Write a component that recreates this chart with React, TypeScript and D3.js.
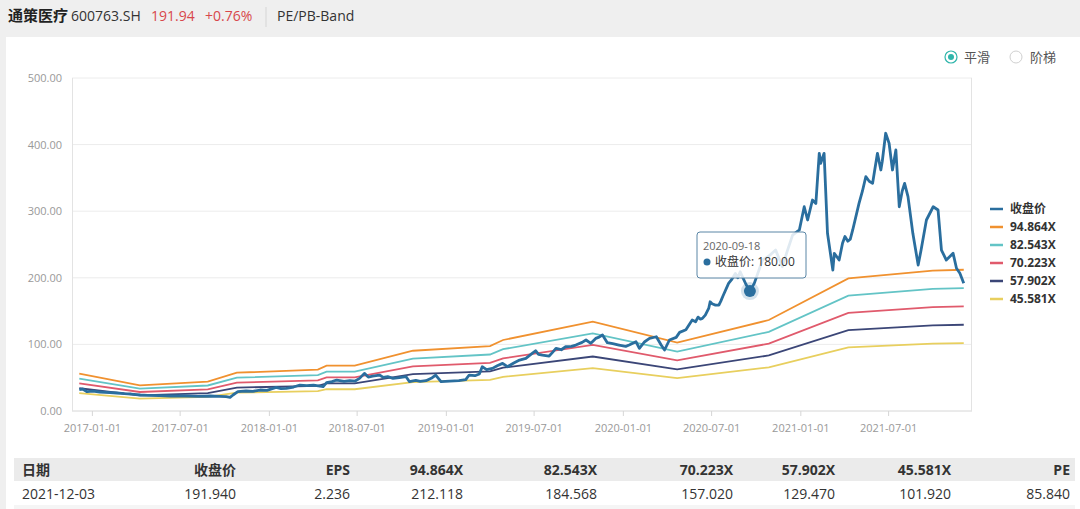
import * as d3 from "d3";

// closing price (adjusted)
const closeDates = [
  "2016-12-05", "2016-12-12", "2016-12-21", "2017-01-03", "2017-01-16", "2017-02-06", "2017-02-20",
  "2017-03-08", "2017-03-22", "2017-04-10", "2017-04-25", "2017-05-19", "2017-06-12", "2017-07-11",
  "2017-08-07", "2017-09-01", "2017-09-20", "2017-10-04", "2017-10-12", "2017-10-18", "2017-10-28",
  "2017-11-14", "2017-11-28", "2017-12-13", "2017-12-27", "2018-01-15", "2018-01-25", "2018-02-05",
  "2018-02-20", "2018-03-05", "2018-03-19", "2018-04-02", "2018-04-22", "2018-04-29", "2018-05-10",
  "2018-05-20", "2018-06-04", "2018-06-16", "2018-06-27", "2018-07-06", "2018-07-16", "2018-07-24",
  "2018-08-02", "2018-08-16", "2018-08-24", "2018-09-02", "2018-09-13", "2018-09-26", "2018-10-10",
  "2018-10-17", "2018-10-30", "2018-11-08", "2018-11-20", "2018-12-03", "2018-12-10", "2018-12-21",
  "2019-01-08", "2019-01-27", "2019-02-10", "2019-02-17", "2019-03-01", "2019-03-10", "2019-03-16",
  "2019-03-25", "2019-04-06", "2019-04-16", "2019-04-27", "2019-05-07", "2019-05-20", "2019-06-01",
  "2019-06-14", "2019-06-27", "2019-07-04", "2019-07-10", "2019-07-18", "2019-08-01", "2019-08-08",
  "2019-08-15", "2019-08-26", "2019-09-04", "2019-09-16", "2019-09-25", "2019-10-08", "2019-10-16",
  "2019-10-26", "2019-11-05", "2019-11-12", "2019-11-19", "2019-11-29", "2019-12-10", "2019-12-23",
  "2020-01-06", "2020-01-13", "2020-01-27", "2020-02-03", "2020-02-14", "2020-02-24", "2020-03-09",
  "2020-03-19", "2020-03-26", "2020-04-05", "2020-04-19", "2020-04-26", "2020-05-09", "2020-05-22",
  "2020-05-29", "2020-06-03", "2020-06-08", "2020-06-12", "2020-06-18", "2020-06-25", "2020-06-28",
  "2020-07-02", "2020-07-09", "2020-07-16", "2020-07-20", "2020-07-24", "2020-08-05", "2020-08-12",
  "2020-08-19", "2020-08-24", "2020-08-29", "2020-09-10", "2020-09-18", "2020-09-27", "2020-10-14",
  "2020-10-26", "2020-11-10", "2020-11-24", "2020-12-04", "2020-12-15", "2020-12-29", "2021-01-08",
  "2021-01-15", "2021-01-25", "2021-02-01", "2021-02-08", "2021-02-11", "2021-02-18", "2021-02-25",
  "2021-03-08", "2021-03-11", "2021-03-21", "2021-03-28", "2021-04-02", "2021-04-08", "2021-04-13",
  "2021-04-18", "2021-05-01", "2021-05-08", "2021-05-15", "2021-05-22", "2021-05-29", "2021-06-02",
  "2021-06-08", "2021-06-15", "2021-06-18", "2021-06-25", "2021-07-02", "2021-07-09", "2021-07-16",
  "2021-07-23", "2021-07-29", "2021-08-03", "2021-08-10", "2021-08-20", "2021-08-31", "2021-09-06",
  "2021-09-17", "2021-10-01", "2021-10-11", "2021-10-18", "2021-10-28", "2021-11-11", "2021-11-18",
  "2021-11-25", "2021-12-03",
];
const closeValues = [
  32, 33, 29, 30, 28.5, 27.5, 27,
  26, 25.5, 24, 23.5, 23, 22.5, 22.5,
  22, 22.5, 22, 21.5, 20.5, 24, 29,
  30, 29.5, 31.5, 31, 35.5, 33.5, 34,
  36, 39, 38, 39, 36.5, 42.5, 44,
  46.5, 44.5, 45.5, 45, 49, 56.5, 51,
  52.5, 54, 50.5, 51.5, 49, 50, 51.5,
  44, 46, 44.5, 45.5, 50, 54, 44,
  45, 45.5, 47, 54, 53, 55.5, 66.5,
  62, 64, 68, 71.5, 66.5, 72, 76.5,
  79, 86.5, 90.5, 85, 84, 82.5, 88,
  94, 92, 96.5, 97, 99, 103, 106.6,
  101.6, 109, 111, 114, 102.6, 101, 99,
  97, 99, 104, 94, 104, 109, 111.5,
  99, 91.6, 106.6, 110.6, 118, 122, 136.6,
  134, 141, 138, 139, 144, 154, 164,
  161, 159, 159, 165, 172, 191.6, 198,
  206.6, 200, 209, 190, 180, 191.6, 226.7,
  232, 241.7, 216.7, 240, 264, 271.8, 306.7,
  286.8, 316.8, 311.7, 386.9, 371.9, 386.9, 266.8,
  211.7, 236.8, 226.7, 251.8, 262, 255, 258,
  271.8, 311.7, 330, 351.8, 345, 341.8, 360,
  386.9, 361.9, 375, 417, 402, 361.9, 391.9,
  306.7, 330, 341.8, 321.8, 266.8, 219.2, 241.7,
  286.8, 306.7, 301.8, 241.7, 226.7, 236.8, 214.3,
  206.7, 191.94,
];

// EPS (TTM) at the kinks of the bands
const epsDates = [
  "2016-12-05", "2017-04-09", "2017-08-27", "2017-10-26", "2018-04-11", "2018-04-29",
  "2018-06-26", "2018-10-24", "2019-04-01", "2019-04-28", "2019-10-30", "2020-04-21",
  "2020-10-27", "2021-04-09", "2021-09-30", "2021-12-03",
];
const epsValues = [
  0.59, 0.406, 0.464, 0.606, 0.654, 0.717, 0.717, 0.954, 1.028, 1.124, 1.413, 1.082,
  1.44, 2.098, 2.221, 2.236,
];

const multiples = [94.864, 82.543, 70.223, 57.902, 45.581];
const bandColors = ["#f0912f", "#63c4c6", "#e05a6c", "#3b4677", "#e8cf5e"];
const closeColor = "#2a6e9e";

const xTickLabels = [
  "2017-01-01", "2017-07-01", "2018-01-01", "2018-07-01", "2019-01-01",
  "2019-07-01", "2020-01-01", "2020-07-01", "2021-01-01", "2021-07-01",
];
const yTicks = [0, 100, 200, 300, 400, 500];

const tableHeaders = ["日期", "收盘价", "EPS", "94.864X", "82.543X", "70.223X", "57.902X", "45.581X", "PE"];
const tableRow = ["2021-12-03", "191.940", "2.236", "212.118", "184.568", "157.020", "129.470", "101.920", "85.840"];

const hoverDate = "2020-09-18";
const hoverValue = 180;

const parse = d3.timeParse("%Y-%m-%d");
const FONT = "'Open Sans', 'Noto Sans CJK SC', sans-serif";

export default function App() {
  const x = d3
    .scaleTime()
    .domain([parse("2016-11-20")!, parse("2021-12-20")!])
    .range([72, 972]);
  const y = d3.scaleLinear().domain([0, 500]).range([411, 78]);

  const closeLine = d3
    .line<number>()
    .x((_, i) => x(parse(closeDates[i])!))
    .y((d) => y(d));

  const bandLine = (m: number) =>
    d3
      .line<number>()
      .x((_, i) => x(parse(epsDates[i])!))
      .y((d) => y(d * m))(epsValues);

  const legendNames = ["收盘价", ...multiples.map((m) => `${m}X`)];
  const legendColors = [closeColor, ...bandColors];

  const colRight = [null, 236, 350, 463, 597, 733, 835, 951, 1070];

  const hx = x(parse(hoverDate)!);
  const hy = y(hoverValue);

  return (
    <svg
      width={1080}
      height={509}
      style={{ position: "absolute", left: 0, top: 0, fontFamily: FONT }}
    >
      <rect width={1080} height={509} fill="#efefef" />
      <rect x={6} y={37} width={1074} height={472} fill="#ffffff" />

      {/* header */}
      <text x={8} y={21} fontSize={15} fontWeight="bold" fill="#222">通策医疗</text>
      <text x={71} y={21} fontSize={14} fill="#333">600763.SH</text>
      <text x={151} y={21} fontSize={14} fill="#d8474b">191.94</text>
      <text x={205} y={21} fontSize={14} fill="#d8474b">+0.76%</text>
      <line x1={266} x2={266} y1={7} y2={27} stroke="#d5d5d5" />
      <text x={277} y={21} fontSize={14} fill="#333">PE/PB-Band</text>

      {/* smooth / step toggle */}
      <circle cx={951} cy={57} r={6} fill="#fff" stroke="#2fb5ab" strokeWidth={1.2} />
      <circle cx={951} cy={57} r={3} fill="#2fb5ab" />
      <text x={964} y={62} fontSize={13} fill="#555">平滑</text>
      <circle cx={1016} cy={57} r={6} fill="#fff" stroke="#d0d0d0" strokeWidth={1} />
      <text x={1030} y={62} fontSize={13} fill="#555">阶梯</text>

      {/* grid + y axis */}
      {yTicks.map((t) => (
        <g key={t}>
          <line x1={72} x2={972} y1={y(t)} y2={y(t)} stroke={t === 0 ? "#d6d6d6" : "#ececec"} />
          <text x={62} y={y(t) + 4} fontSize={11} fill="#999" textAnchor="end">
            {d3.format(".2f")(t)}
          </text>
        </g>
      ))}
      <line x1={72.5} x2={72.5} y1={78} y2={411} stroke="#e3e3e3" />
      <line x1={971.5} x2={971.5} y1={78} y2={411} stroke="#e3e3e3" />

      {/* x axis */}
      {xTickLabels.map((s) => {
        const tx = x(parse(s)!);
        return (
          <g key={s}>
            <line x1={tx} x2={tx} y1={411} y2={416} stroke="#d6d6d6" />
            <text x={tx} y={432} fontSize={11} fill="#999" textAnchor="middle">{s}</text>
          </g>
        );
      })}

      {/* bands */}
      {multiples.map((m, i) => (
        <path key={m} d={bandLine(m) ?? ""} fill="none" stroke={bandColors[i]} strokeWidth={1.8} />
      ))}

      {/* close */}
      <path
        d={closeLine(closeValues) ?? ""}
        fill="none"
        stroke={closeColor}
        strokeWidth={2.8}
        strokeLinejoin="round"
      />

      {/* hover marker */}
      <circle cx={hx} cy={hy} r={9} fill={closeColor} opacity={0.2} />
      <circle cx={hx} cy={hy} r={6} fill={closeColor} />

      {/* tooltip */}
      <rect x={697} y={232} width={109} height={46} rx={3} fill="#ffffff" fillOpacity={0.85} stroke="#5a86a6" />
      <text x={703} y={250} fontSize={11} fill="#666">{hoverDate}</text>
      <circle cx={707} cy={262} r={3.5} fill={closeColor} />
      <text x={715} y={266} fontSize={12} fill="#333">
        收盘价: {d3.format(".2f")(hoverValue)}
      </text>

      {/* legend */}
      {legendNames.map((n, i) => (
        <g key={n} transform={`translate(990,${209 + i * 18})`}>
          <line x1={0} x2={13} y1={0} y2={0} stroke={legendColors[i]} strokeWidth={2.5} />
          <text x={20} y={4} fontSize={12} fontWeight="bold" fill="#333">{n}</text>
        </g>
      ))}

      {/* table */}
      <rect x={14} y={458} width={1061} height={23} fill="#ebebeb" />
      <rect x={14} y={505} width={1061} height={4} fill="#f5f5f5" />
      {tableHeaders.map((h, i) => (
        <text
          key={h}
          x={i === 0 ? 22 : colRight[i]!}
          y={475}
          fontSize={14}
          fontWeight="bold"
          fill="#333"
          textAnchor={i === 0 ? "start" : "end"}
        >
          {h}
        </text>
      ))}
      {tableRow.map((v, i) => (
        <text
          key={i}
          x={i === 0 ? 22 : colRight[i]!}
          y={499}
          fontSize={14}
          fill="#333"
          textAnchor={i === 0 ? "start" : "end"}
        >
          {v}
        </text>
      ))}
    </svg>
  );
}
